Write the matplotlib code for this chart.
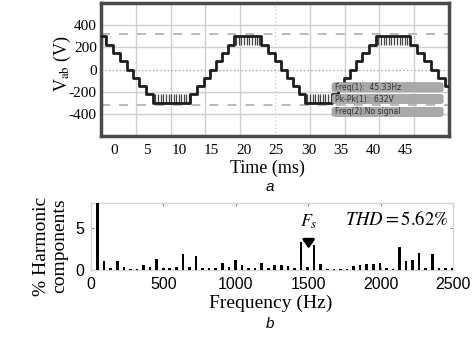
import numpy as np
import matplotlib
matplotlib.use("Agg")
import matplotlib.pyplot as plt
from matplotlib.patches import FancyBboxPatch

plt.rcParams['font.family'] = ['Liberation Serif', 'DejaVu Serif']
plt.rcParams['mathtext.fontset'] = 'stix'
plt.rcParams['axes.unicode_minus'] = False

# --- panel a: line voltage (staircase), step edges in ms and levels in V
wave_t = [-2.1, -1.3, -0.23, 0.85, 1.93, 2.86, 3.79, 4.87, 5.95,
          11.67, 12.75, 13.83, 14.76, 15.69, 16.62, 17.54, 18.47,
          22.64, 23.72, 24.81, 25.73, 26.66, 27.59, 28.52, 29.44,
          33.62, 34.54, 35.47, 36.40, 37.33, 38.25, 39.34, 40.42,
          45.67, 46.75, 47.84, 48.92, 50.0, 51.08, 51.7]
wave_v = [300, 225, 150, 75, 0, -75, -150, -225, -300,
          -225, -150, -75, 0, 75, 150, 225, 300,
          225, 150, 75, 0, -75, -150, -225, -300,
          -225, -150, -75, 0, 75, 150, 225, 300,
          225, 150, 75, 0, -75, -150, -150]

# short switching pulses on the flat tops / bottoms (ms)
top_pulse_t = [-1.9, -1.55, 18.8, 19.25, 19.6, 20.05, 20.4, 20.85, 21.2,
               21.65, 22.0, 22.4, 40.8, 41.2, 41.65, 42.0, 42.45, 42.8,
               43.25, 43.6, 44.05, 44.4, 44.85, 45.25]
bot_pulse_t = [6.3, 6.75, 7.1, 7.55, 7.9, 8.35, 8.7, 9.15, 9.5, 9.95,
               10.3, 10.75, 11.1, 11.45, 29.8, 30.2, 30.65, 31.0, 31.45,
               31.8, 32.25, 32.6, 33.05, 33.4]
pk_level = 316

# --- panel b: harmonic spectrum
fund_hz = 45.33
harm_order = np.arange(1, 56)
harm_pct = [100, 1.05, 0.2, 1.1, 0.3, 0.15, 0.15, 0.6, 0.35, 1.25,
            0.2, 0.2, 0.3, 1.9, 0.3, 1.6, 0.2, 0.2, 0.2, 0.8,
            0.3, 1.2, 0.6, 0.2, 0.2, 0.8, 0.2, 0.6, 0.6, 0.45,
            0.2, 3.25, 0.4, 2.9, 0.75, 0.15, 0.15, 0.15, 0.15, 0.5,
            0.55, 0.7, 0.7, 0.8, 0.25, 0.15, 2.7, 1.05, 1.15, 2.0,
            0.2, 1.85, 0.2, 0.2, 0.2]
fs_hz = 1503

W, H = 474, 359
fig = plt.figure(figsize=(W / 100, H / 100), dpi=100)

# ---------------- panel a
ax1 = fig.add_axes([101 / W, 1 - 136 / H, 348 / W, 133 / H])
x0, x1 = -2.1, 51.7
ax1.set_xlim(x0, x1)
ax1.set_ylim(-600, 600)
for k, gx in enumerate(np.linspace(x0, x1, 11)[1:-1]):
    ax1.axvline(gx, color='#cfcfcf', lw=1, ls=':' if k == 4 else '-', zorder=0)
for gy in [-400, -200, 200, 400]:
    ax1.axhline(gy, color='#cfcfcf', lw=1, zorder=0)
ax1.axhline(0, color='#a8a8a8', lw=1, ls=':', zorder=0)
ax1.axhline(pk_level, color='#b4b4b4', lw=1.3, ls=(0, (5, 5)), zorder=1)
ax1.axhline(-pk_level, color='#b4b4b4', lw=1.3, ls=(0, (5, 5)), zorder=1)

ax1.vlines(top_pulse_t, 225, 300, color='#444444', lw=0.9, zorder=2)
ax1.vlines(bot_pulse_t, -300, -225, color='#444444', lw=0.9, zorder=2)
ax1.step(wave_t, wave_v, where='post', color='#1e1e1e', lw=2.0, zorder=3)

ax1.set_xticks(np.arange(0, 50, 5))
ax1.set_yticks([-400, -200, 0, 200, 400])
ax1.tick_params(length=0, labelsize=11)
ax1.tick_params(axis='x', pad=6)
ax1.tick_params(axis='y', pad=3)
for s in ax1.spines.values():
    s.set_color('#4a4a4a')
    s.set_linewidth(2.5)

box_txt = ['Freq(1):  45.33Hz', 'Pk-Pk(1):  632V', 'Freq(2):No signal']
box_y = [0.333, 0.244, 0.147]
for txt, by in zip(box_txt, box_y):
    ax1.add_patch(FancyBboxPatch((0.664, by), 0.319, 0.068,
                                 boxstyle='round,pad=0,rounding_size=0.012',
                                 transform=ax1.transAxes, facecolor='#a9a9a9',
                                 edgecolor='#999999', lw=0.5, zorder=5))
    ax1.text(0.672, by + 0.034, txt, transform=ax1.transAxes, fontsize=5.5,
             family='DejaVu Sans', color='#303030', va='center', zorder=6)

fig.text(267 / W, 1 - 168 / H, 'Time (ms)', fontsize=13, ha='center', va='center')
fig.text(62 / W, 1 - 64 / H, r'V$_{\mathrm{ab}}$ (V)', fontsize=13,
         rotation=90, ha='center', va='center')
fig.text(270 / W, 1 - 187 / H, 'a', fontsize=11, style='italic',
         family='Liberation Sans', ha='center', va='center')

# ---------------- panel b
ax2 = fig.add_axes([91 / W, 1 - 270 / H, 362 / W, 67 / H])
ax2.bar(harm_order * fund_hz, harm_pct, width=18, color='black', zorder=3)
ax2.set_xlim(0, 2500)
ax2.set_ylim(0, 7.9)
ax2.set_xticks([0, 500, 1000, 1500, 2000, 2500])
ax2.set_yticks([0, 5])
ax2.tick_params(direction='in', length=2, color='#888888', top=True, right=True,
                labelsize=11.5, pad=5)
for lab in ax2.get_xticklabels() + ax2.get_yticklabels():
    lab.set_family('Liberation Sans')
for s in ax2.spines.values():
    s.set_color('#d4d4d4')
    s.set_linewidth(1)

ax2.annotate('', xy=(fs_hz, 2.2), xytext=(fs_hz, 3.9),
             arrowprops=dict(arrowstyle='-|>,head_length=0.5,head_width=0.35',
                             color='black', lw=2))
ax2.text(fs_hz, 5.7, r'$F_s$', fontsize=13, ha='center', va='center')
ax2.text(2470, 5.9, r'$THD=5.62\%$', fontsize=13.5, ha='right', va='center')

fig.text(271 / W, 1 - 303 / H, 'Frequency (Hz)', fontsize=14, ha='center', va='center')
fig.text(51 / W, 1 - 246 / H, '% Harmonic\ncomponents', fontsize=14, rotation=90,
         ha='center', va='center', multialignment='center', linespacing=1.1)
fig.text(270 / W, 1 - 324 / H, 'b', fontsize=11, style='italic',
         family='Liberation Sans', ha='center', va='center')

fig.savefig('out.png', dpi=100)
